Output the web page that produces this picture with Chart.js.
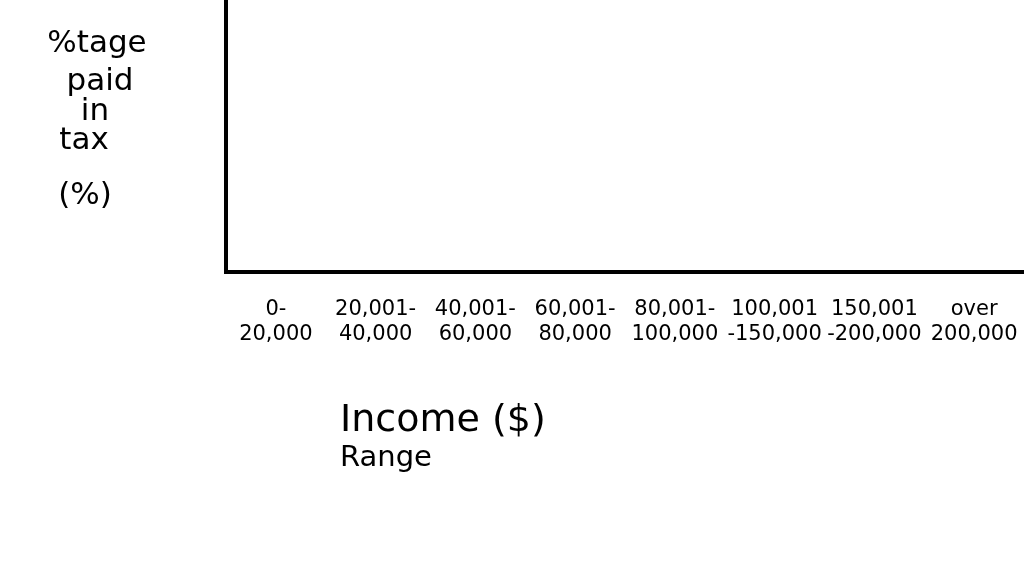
<!DOCTYPE html>
<html>
<head>
<meta charset="utf-8">
<script src="https://cdn.jsdelivr.net/npm/chart.js@4/dist/chart.umd.min.js"></script>
<style>
  html, body { margin: 0; padding: 0; background: #fff; }
  #wrap { width: 1024px; height: 576px; position: relative; }
</style>
</head>
<body>
<div id="wrap"><canvas id="taxChart" width="1024" height="576"></canvas></div>
<script>
// income brackets along the x axis (two lines each, as written)
const incomeRanges = [
  ['0-', '20,000'],
  ['20,001-', '40,000'],
  ['40,001-', '60,000'],
  ['60,001-', '80,000'],
  ['80,001-', '100,000'],
  ['100,001', '-150,000'],
  ['150,001', '-200,000'],
  ['over', '200,000']
];
// the sketch is an empty frame: no bars drawn yet
const taxPaidPct = [null, null, null, null, null, null, null, null];
const yTitleLines = ['%tage', 'paid', 'in', 'tax', '', '(%)'];
const xTitleLines = ['Income ($)', 'Range'];

const penFont = '"DejaVu Sans", sans-serif';

// axis titles sit beside the frame, not rotated
const titlesPlugin = {
  id: 'sketchTitles',
  afterDraw(chart) {
    const ctx = chart.ctx;
    ctx.save();
    ctx.fillStyle = '#000';
    ctx.textAlign = 'center';
    ctx.textBaseline = 'middle';
    ctx.font = '31px ' + penFont;
    const ys = [44, 82, 112, 141, 170, 196];
    const xs = [97, 100, 95, 84, 0, 85];
    yTitleLines.forEach((t, i) => {
      if (t) ctx.fillText(t, xs[i], ys[i]);
    });
    ctx.textAlign = 'left';
    ctx.font = '38px ' + penFont;
    ctx.fillText(xTitleLines[0], 340, 421);
    ctx.font = '29px ' + penFont;
    ctx.fillText(xTitleLines[1], 340, 458);
    ctx.restore();
  }
};

const chart = new Chart(document.getElementById('taxChart'), {
  type: 'bar',
  data: {
    labels: incomeRanges,
    datasets: [{
      label: '% paid in tax',
      data: taxPaidPct,
      backgroundColor: '#000'
    }]
  },
  options: {
    responsive: false,
    animation: false,
    layout: { padding: { left: 226, top: -5, right: 0, bottom: 204 } },
    plugins: {
      legend: { display: false },
      tooltip: { enabled: false }
    },
    scales: {
      x: {
        grid: { drawOnChartArea: false, drawTicks: false },
        border: { color: '#000', width: 4 },
        ticks: {
          color: '#000',
          maxRotation: 0,
          autoSkip: false,
          padding: 25,
          font: { family: penFont, size: 21 }
        },
        // let the last label run off the page like the sketch
        afterFit(scale) {
          scale.paddingLeft = 0;
          scale.paddingRight = 0;
        }
      },
      y: {
        min: 0,
        max: 100,
        grid: { drawOnChartArea: false, drawTicks: false },
        border: { color: '#000', width: 4 },
        ticks: { display: false }
      }
    }
  },
  plugins: [titlesPlugin]
});
</script>
</body>
</html>
